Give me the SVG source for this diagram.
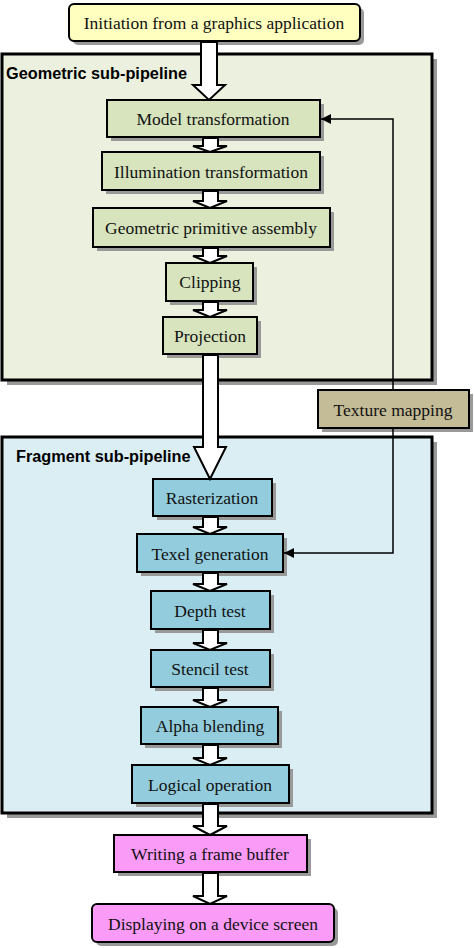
<svg xmlns="http://www.w3.org/2000/svg" width="474" height="948" viewBox="0 0 474 948">
<defs>
<style>
.sh{fill:#999999}
.pan{stroke:#000;stroke-width:3}
.nd{stroke:#000;stroke-width:2}
.g{fill:#D7E4BD}
.f{fill:#93CDDD}
.p{fill:#FA9BF7}
.t{font-family:"Liberation Serif","Times New Roman",serif;font-size:17.5px;fill:#111;text-anchor:middle}
.lb{font-family:"Liberation Sans",Arial,sans-serif;font-size:16.3px;font-weight:bold;fill:#000}
.ar{fill:#fff;stroke:#000;stroke-width:2;stroke-linejoin:miter}
.ln{fill:none;stroke:#000;stroke-width:1.5}
</style>
<marker id="ah" viewBox="0 0 10 10" refX="10" refY="5" markerWidth="10" markerHeight="10" markerUnits="userSpaceOnUse" orient="auto">
<path d="M0,0 L10,5 L0,10 z" fill="#000"/>
</marker>
</defs>
<rect width="474" height="948" fill="#fff"/>

<g id="geometric-panel">
<rect class="sh" x="7" y="59" width="430" height="326"/>
<rect class="pan" x="2" y="54" width="430" height="326" fill="#EBF1DE"/>
<text class="lb" x="6" y="79">Geometric sub-pipeline</text>
</g>
<g id="fragment-panel">
<rect class="sh" x="7" y="442" width="430" height="376"/>
<rect class="pan" x="2" y="437" width="430" height="376" fill="#DBEEF4"/>
<text class="lb" x="16" y="462">Fragment sub-pipeline</text>
</g>

<g id="initiation">
<rect class="sh" x="73" y="8" width="291" height="37" rx="5"/>
<rect class="nd" x="69" y="4" width="291" height="37" rx="5" fill="#FFFFC0"/>
<text class="t" x="214" y="29">Initiation from a graphics application</text>
</g>
<g id="model">
<rect class="sh" x="111" y="104" width="213" height="37"/>
<rect class="nd g" x="107" y="100" width="213" height="37"/>
<text class="t" x="213" y="125">Model transformation</text>
</g>
<g id="illumination">
<rect class="sh" x="106" y="156" width="218" height="38"/>
<rect class="nd g" x="102" y="152" width="218" height="38"/>
<text class="t" x="211" y="178">Illumination transformation</text>
</g>
<g id="assembly">
<rect class="sh" x="97" y="212" width="237" height="39"/>
<rect class="nd g" x="93" y="208" width="237" height="39"/>
<text class="t" x="211" y="234">Geometric primitive assembly</text>
</g>
<g id="clipping">
<rect class="sh" x="170" y="267" width="87" height="38"/>
<rect class="nd g" x="166" y="263" width="87" height="38"/>
<text class="t" x="210" y="288">Clipping</text>
</g>
<g id="projection">
<rect class="sh" x="167" y="321" width="94" height="37"/>
<rect class="nd g" x="163" y="317" width="94" height="37"/>
<text class="t" x="210" y="342">Projection</text>
</g>
<g id="texture">
<rect class="sh" x="322" y="394" width="151" height="38"/>
<rect class="nd" x="318" y="390" width="151" height="38" fill="#C4BC97"/>
<text class="t" x="393" y="416">Texture mapping</text>
</g>
<g id="rasterization">
<rect class="sh" x="157" y="483" width="119" height="37"/>
<rect class="nd f" x="153" y="479" width="119" height="37"/>
<text class="t" x="212" y="504">Rasterization</text>
</g>
<g id="texel">
<rect class="sh" x="141" y="538" width="146" height="38"/>
<rect class="nd f" x="137" y="534" width="146" height="38"/>
<text class="t" x="210" y="560">Texel generation</text>
</g>
<g id="depth">
<rect class="sh" x="155" y="595" width="119" height="38"/>
<rect class="nd f" x="151" y="591" width="119" height="38"/>
<text class="t" x="210" y="617">Depth test</text>
</g>
<g id="stencil">
<rect class="sh" x="155" y="654" width="119" height="37"/>
<rect class="nd f" x="151" y="650" width="119" height="37"/>
<text class="t" x="210" y="675">Stencil test</text>
</g>
<g id="alpha">
<rect class="sh" x="145" y="711" width="137" height="37"/>
<rect class="nd f" x="141" y="707" width="137" height="37"/>
<text class="t" x="210" y="732">Alpha blending</text>
</g>
<g id="logical">
<rect class="sh" x="136" y="769" width="157" height="38"/>
<rect class="nd f" x="132" y="765" width="157" height="38"/>
<text class="t" x="210" y="791">Logical operation</text>
</g>
<g id="writing">
<rect class="sh" x="118" y="839" width="193" height="37"/>
<rect class="nd p" x="114" y="835" width="193" height="37"/>
<text class="t" x="210" y="860">Writing a frame buffer</text>
</g>
<g id="displaying">
<rect class="sh" x="96" y="908" width="242" height="38" rx="5"/>
<rect class="nd p" x="92" y="904" width="242" height="38" rx="5"/>
<text class="t" x="213" y="930">Displaying on a device screen</text>
</g>

<g id="connectors">
<polygon class="ar" points="201,42 217,42 217,85 225,85 209,100 193,85 201,85"/>
<polygon class="ar" points="203,138 218,138 218,146 227,146 210,152 193,146 203,146"/>
<polygon class="ar" points="203,191 218,191 218,201 227,201 210,208 193,201 203,201"/>
<polygon class="ar" points="203,248 218,248 218,256 227,256 210,263 193,256 203,256"/>
<polygon class="ar" points="203,302 218,302 218,310 227,310 210,317 193,310 203,310"/>
<polygon class="ar" points="203,355 218,355 218,447 226,447 210,479 194,447 203,447"/>
<polygon class="ar" points="203,517 218,517 218,527 227,527 210,534 193,527 203,527"/>
<polygon class="ar" points="203,573 218,573 218,584 227,584 210,591 193,584 203,584"/>
<polygon class="ar" points="203,630 218,630 218,643 227,643 210,650 193,643 203,643"/>
<polygon class="ar" points="203,688 218,688 218,700 227,700 210,707 193,700 203,700"/>
<polygon class="ar" points="203,745 218,745 218,758 227,758 210,765 193,758 203,758"/>
<polygon class="ar" points="203,804 218,804 218,826 227,826 210,835 193,826 203,826"/>
<polygon class="ar" points="203,873 218,873 218,896 227,896 210,904 193,896 203,896"/>
<polyline class="ln" points="393,389 393,119 321,119" marker-end="url(#ah)"/>
<polyline class="ln" points="393,429 393,553 284,553" marker-end="url(#ah)"/>
</g>
</svg>
